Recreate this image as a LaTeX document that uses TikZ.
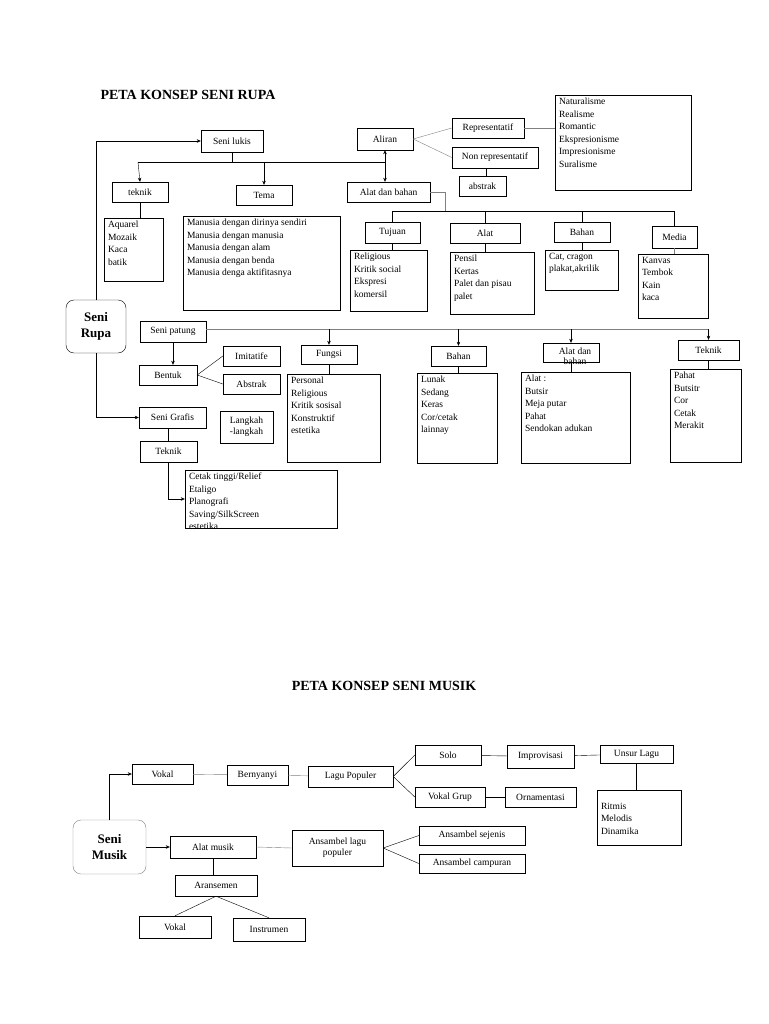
\documentclass[tikz,border=0pt]{standalone}
\usepackage{fontspec}
\setmainfont{Liberation Serif}
\usetikzlibrary{arrows.meta}
\newcommand\mybox[6]{\node[box, minimum width={(#4-#2)*1pt}, minimum height={(#5-#3)*1pt}] (#1) at ({(#2+#4)/2},{(#3+#5)/2}) {#6};}
\newcommand\mylist[6]{\node[box, minimum width={(#4-#2)*1pt}, minimum height={(#5-#3)*1pt}, label={[lst]north west:{#6}}] (#1) at ({(#2+#4)/2},{(#3+#5)/2}) {};}
\begin{document}
\begin{tikzpicture}[x=1pt,y=-1pt,
  box/.style={draw, inner sep=1pt, align=center, font=\fontsize{9.5}{11}\selectfont},
  lst/.style={anchor=north west, align=left, inner sep=0pt, xshift=4pt, yshift=-3pt, font=\fontsize{9.5}{12.5}\selectfont},
  root/.style={draw, rounded corners=8pt, align=center, font=\fontsize{13}{16}\selectfont\bfseries},
  arr/.style={-{Stealth[length=4pt,width=3.5pt]}},
  title/.style={font=\fontsize{14}{16}\selectfont\bfseries}]
\useasboundingbox (0,0) rectangle (768,1024);
\node[title, anchor=west] (t1) at (97,95) {PETA KONSEP SENI RUPA};
\node[title] (t2) at (384,686) {PETA KONSEP SENI MUSIK};
% ---- Seni Rupa
\node[root, minimum width=60pt, minimum height=53pt] (sr) at (96,326.5) {Seni\\Rupa};
\mybox{sl}{201}{130}{263}{152}{Seni lukis}
\mybox{al}{357}{128}{413}{150}{Aliran}
\mybox{rep}{452}{118}{524}{138}{Representatif}
\mybox{nrep}{452}{147}{538}{168}{Non representatif}
\mybox{abs}{459}{176}{506}{196}{abstrak}
\mylist{nat}{555}{95}{691}{190}{Naturalisme\\Realisme\\Romantic\\Ekspresionisme\\Impresionisme\\Suralisme}
\mybox{tek}{112}{182}{168}{202}{teknik}
\mybox{tema}{236}{185}{292}{205}{Tema}
\mybox{adb}{347}{182}{430}{202}{Alat dan bahan}
\mylist{aq}{104}{218}{163}{281}{Aquarel\\Mozaik\\Kaca\\batik}
\mylist{man}{183}{216}{340}{310}{Manusia dengan dirinya sendiri\\Manusia dengan manusia\\Manusia dengan alam\\Manusia dengan benda\\Manusia denga aktifitasnya}
\mybox{tuj}{365}{222}{420}{243}{Tujuan}
\mylist{rel}{350}{250}{427}{311}{Religious\\Kritik social\\Ekspresi\\komersil}
\mybox{alt}{450}{223}{520}{243}{Alat}
\mylist{pen}{450}{252}{534}{314}{Pensil\\Kertas\\Palet dan pisau\\palet}
\mybox{bah}{554}{222}{610}{242}{Bahan}
\mylist{cat}{545}{250}{618}{290}{Cat, cragon\\plakat,akrilik}
\mybox{med}{652}{226}{697}{248}{Media}
\mylist{kan}{638}{254}{708}{318}{Kanvas\\Tembok\\Kain\\kaca}
\mybox{sp}{140}{321}{206}{342}{Seni patung}
\mybox{fun}{301}{345}{357}{364}{Fungsi}
\mylist{per}{287}{374}{380}{462}{Personal\\Religious\\Kritik sosisal\\Konstruktif\\estetika}
\mybox{ben}{139}{365}{197}{385}{Bentuk}
\mybox{imi}{223}{346}{280}{366}{Imitatife}
\mybox{abs2}{223}{374}{280}{394}{Abstrak}
\mybox{sg}{139}{407}{206}{428}{Seni Grafis}
\mybox{lan}{220}{411}{273}{443}{Langkah\\-langkah}
\mybox{tek2}{140}{441}{197}{462}{Teknik}
\mylist{cet}{185}{470}{337}{528}{Cetak tinggi/Relief\\Etaligo\\Planografi\\Saving/SilkScreen\\estetika}
\mybox{bah2}{431}{346}{486}{366}{Bahan}
\mylist{lun}{417}{373}{497}{463}{Lunak\\Sedang\\Keras\\Cor/cetak\\lainnay}
\node[box, minimum width=56pt, minimum height=19pt, label={[lst, anchor=north, xshift=0pt, yshift=-2pt, align=center, font=\fontsize{9.5}{10}\selectfont]north:{Alat dan\\bahan}}] (adb2) at (571,352.5) {};
\mylist{alat2}{521}{372}{630}{463}{Alat :\\Butsir\\Meja putar\\Pahat\\Sendokan adukan}
\mybox{tek3}{678}{340}{739}{360}{Teknik}
\mylist{pah}{670}{369}{741}{462}{Pahat\\Butsitr\\Cor\\Cetak\\Merakit}
% connectors
\draw[arr] (sr.north) |- (sl.west);
\draw[arr] (sr.south) |- (sg.west);
\coordinate (bl) at (138,162);
\coordinate (br) at (al.south|-bl);
\draw (sl.south) -- (sl.south|-bl);
\draw (bl) -- (br);
\draw[arr] (bl) -- (tek.north);
\draw[arr] (tema.north|-bl) -- (tema.north);
\draw[arr] (br) -- (al.south);
\draw[arr] (br) -- (br|-adb.north);
\draw[gray] (al.east) -- (rep.west);
\draw[gray] (al.east) -- (nrep.west);
\draw (abs.north-|486,0) -- (nrep.south-|486,0);
\draw[gray] (rep.east) -- (rep.east-|nat.west);
\draw (tek.south) -- (tek.south|-aq.north);
\coordinate (j1) at (445,211);
\draw[gray] (adb.east) -| (j1);
\draw (tuj.north) |- (med.north|-j1) -- (med.north);
\draw (alt.north) -- (alt.north|-j1);
\draw (bah.north) -- (bah.north|-j1);
\draw (tuj.south) -- (tuj.south|-rel.north);
\draw (alt.south) -- (alt.south|-pen.north);
\draw (bah.south) -- (bah.south|-cat.north);
\draw[gray] (med.south) -- (med.south|-kan.north);
\coordinate (pb) at (206,329);
\draw[gray] (pb) -- (pb-|tek3.north);
\draw[arr] (fun.north|-pb) -- (fun.north);
\draw[arr] (bah2.north|-pb) -- (bah2.north);
\draw[arr] (adb2.north|-pb) -- (adb2.north);
\draw[arr] (tek3.north|-pb) -- (tek3.north);
\draw[arr] (sp.south) -- (sp.south|-ben.north);
\draw (ben.east) -- (imi.west);
\draw (ben.east) -- (abs2.west);
\draw (fun.south) -- (fun.south|-per.north);
\draw (bah2.south) -- (bah2.south|-lun.north);
\draw (adb2.south) -- (adb2.south|-alat2.north);
\draw (tek3.south) -- (tek3.south|-pah.north);
\draw (tek2.north) -- (tek2.north|-sg.south);
\draw[arr] (tek2.south) |- (cet.west);
% ---- Seni Musik
\node[root, draw=gray, minimum width=73pt, minimum height=54pt] (sm) at (109.5,847) {Seni\\Musik};
\mybox{vok}{132}{764}{193}{784}{Vokal}
\mybox{ber}{227}{765}{288}{785}{Bernyanyi}
\mybox{lp}{308}{766}{393}{787}{Lagu Populer}
\mybox{solo}{415}{745}{481}{765}{Solo}
\mybox{imp}{507}{745}{574}{768}{Improvisasi}
\mybox{ul}{600}{745}{673}{763}{Unsur Lagu}
\mybox{vg}{415}{787}{485}{807}{Vokal Grup}
\mybox{orn}{505}{787}{576}{807}{Ornamentasi}
\node[box, minimum width=84pt, minimum height=55pt, label={[lst, yshift=-10pt]north west:{Ritmis\\Melodis\\Dinamika}}] (rit) at (639,817.5) {};
\mybox{am}{170}{836}{256}{858}{Alat musik}
\mybox{alp}{292}{830}{383}{866}{Ansambel lagu\\populer}
\mybox{as}{419}{826}{525}{845}{Ansambel sejenis}
\mybox{ac}{419}{854}{525}{873}{Ansambel campuran}
\mybox{ar}{175}{875}{257}{896}{Aransemen}
\mybox{v2}{139}{916}{211}{938}{Vokal}
\mybox{ins}{233}{918}{305}{941}{Instrumen}
\draw[arr] (sm.north) |- (vok.west);
\draw[arr] (sm.east) -- (am.west);
\draw[gray] (vok) -- (ber);
\draw[gray] (ber) -- (lp);
\draw (lp.east) -- (solo.west);
\draw (lp.east) -- (vg.west);
\draw (solo) -- (imp);
\draw (imp) -- (ul);
\draw (vg) -- (orn);
\draw (ul.south) -- (ul.south|-rit.north);
\draw (am.south) -- (am.south|-ar.north);
\draw (ar.south) -- (v2.north);
\draw (ar.south) -- (ins.north);
\draw[gray] (am.east) -- (alp.west);
\draw (alp.east) -- (as.west);
\draw (alp.east) -- (ac.west);
\end{tikzpicture}
\end{document}
